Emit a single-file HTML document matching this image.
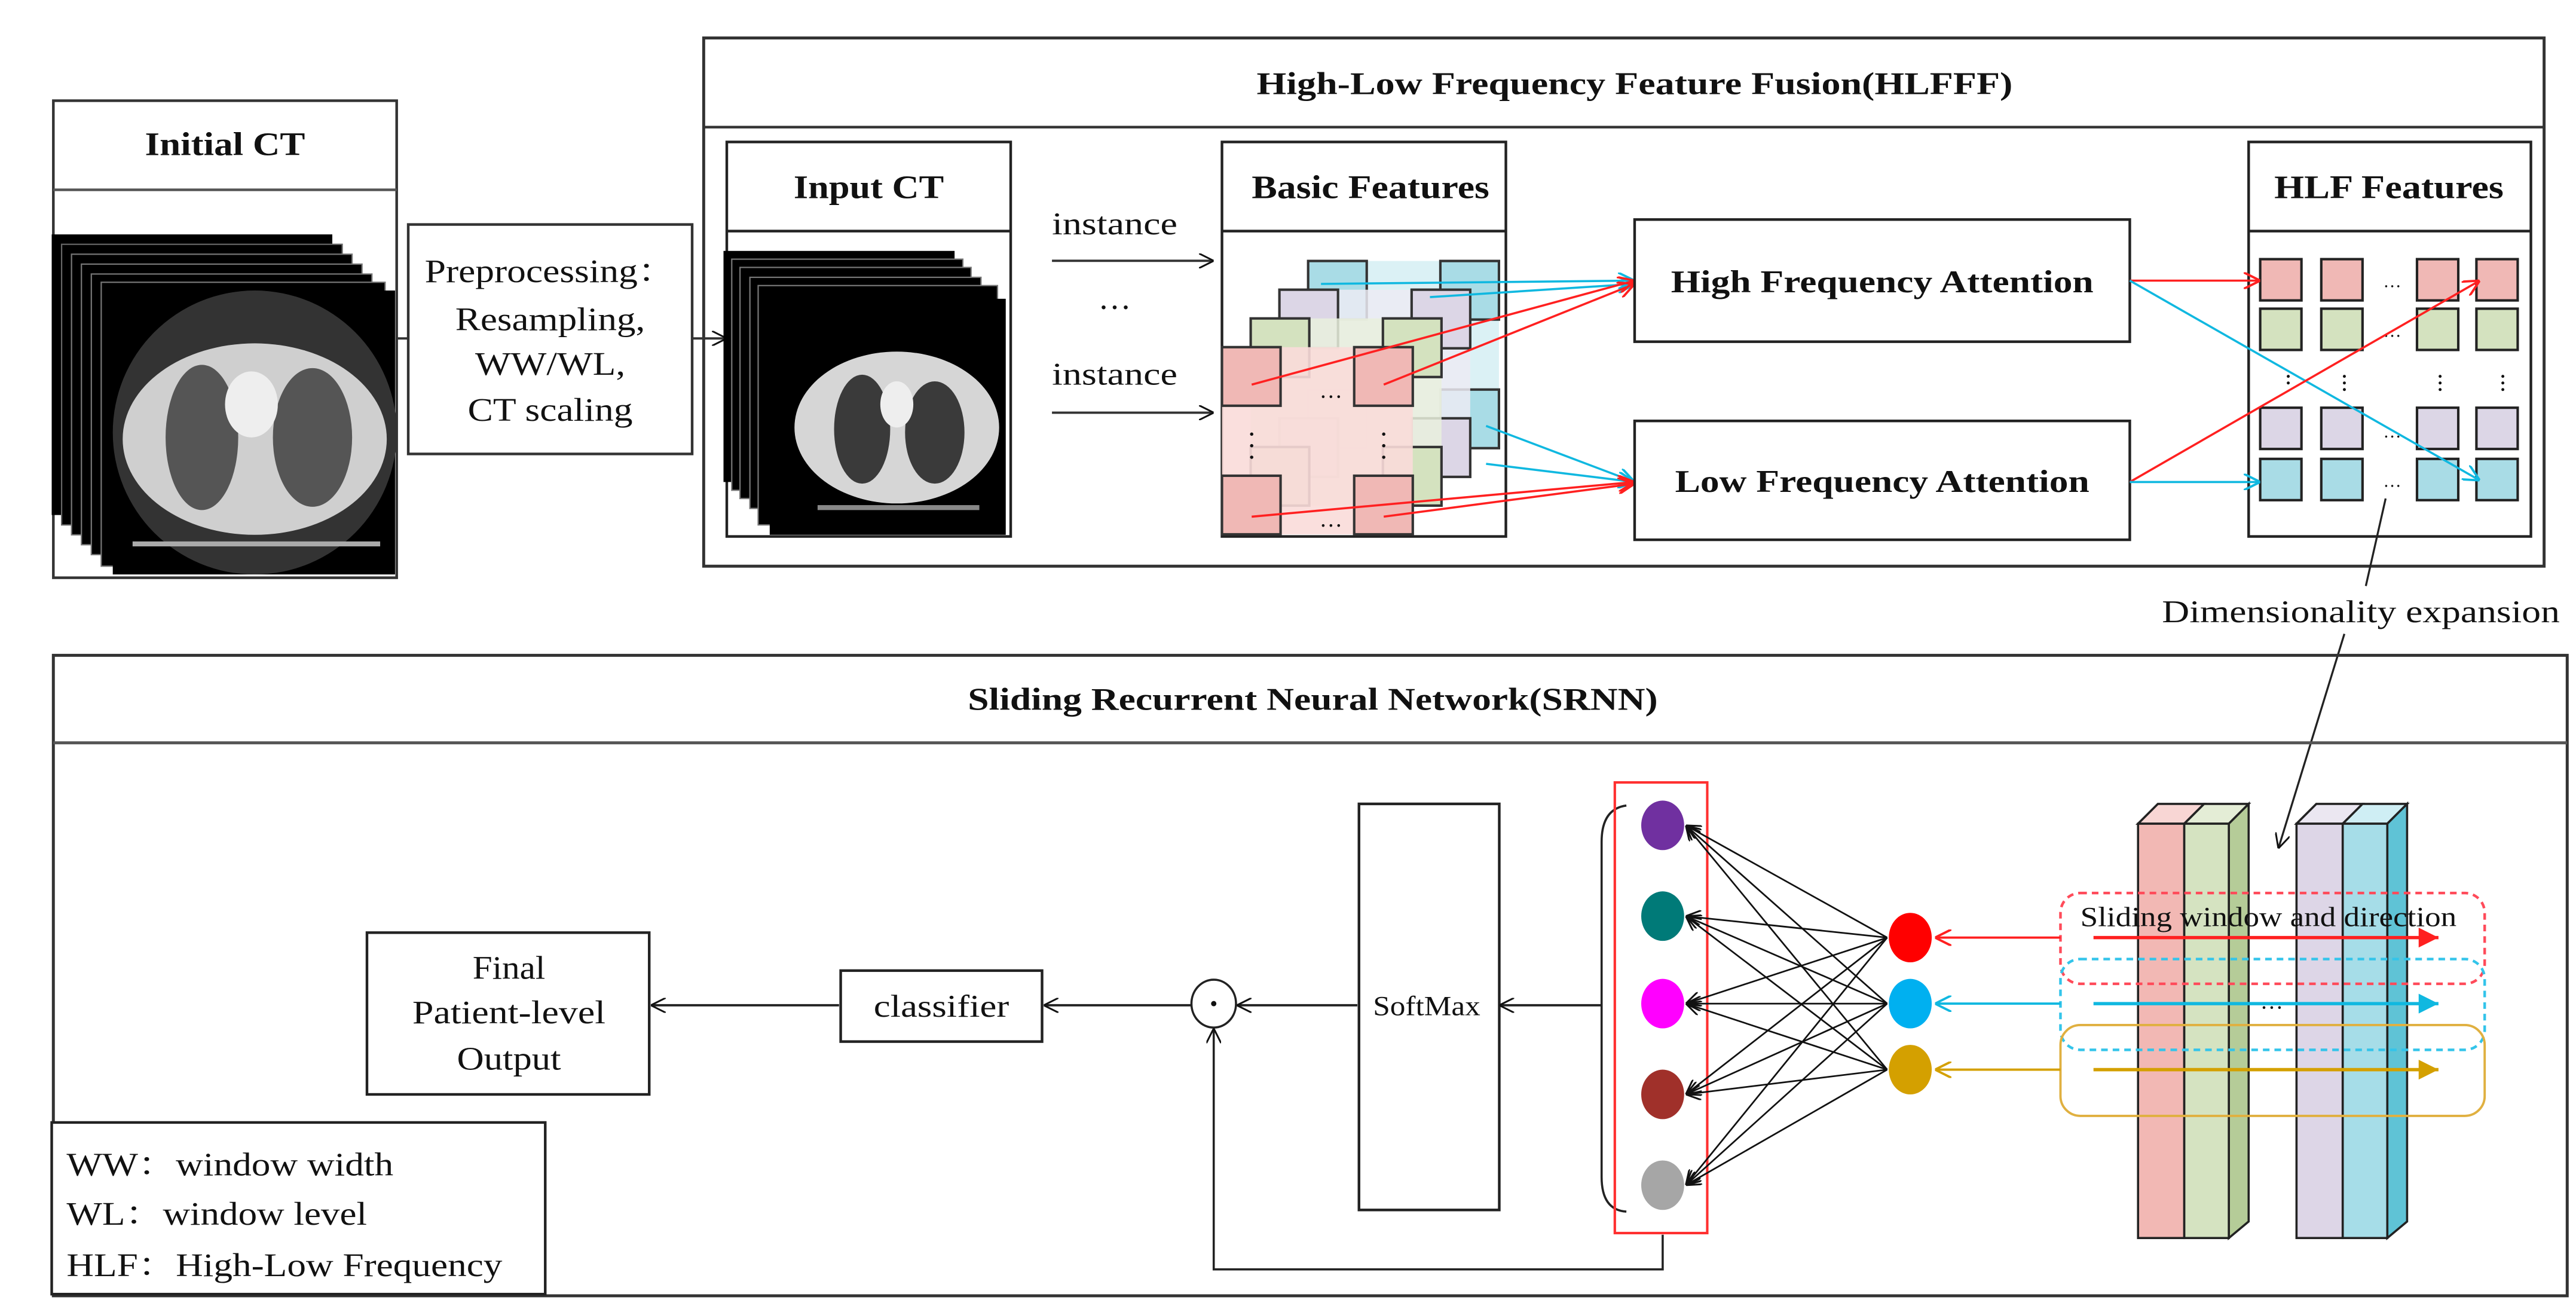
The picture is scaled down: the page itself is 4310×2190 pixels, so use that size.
<!DOCTYPE html>
<html><head><meta charset="utf-8"><style>
html,body{margin:0;padding:0;background:#fff;}
svg{display:block;}
text{font-family:"Liberation Serif","Noto Serif CJK SC","Noto Sans CJK SC",serif;fill:#111;}
.b{font-weight:bold;}
</style></head><body>
<svg width="4310" height="2190" viewBox="0 0 1560 793" xmlns="http://www.w3.org/2000/svg">
<defs>
<marker id="ak" viewBox="0 0 10 10" refX="10" refY="5" markerWidth="9" markerHeight="9" markerUnits="userSpaceOnUse" orient="auto"><path d="M0,0 L10,5 L0,10" fill="none" stroke="#111" stroke-width="1.2"/></marker>
<marker id="ar" viewBox="0 0 10 10" refX="10" refY="5" markerWidth="10" markerHeight="10" markerUnits="userSpaceOnUse" orient="auto"><path d="M0,0 L10,5 L0,10" fill="none" stroke="#ff2020" stroke-width="1.4"/></marker>
<marker id="ab" viewBox="0 0 10 10" refX="10" refY="5" markerWidth="10" markerHeight="10" markerUnits="userSpaceOnUse" orient="auto"><path d="M0,0 L10,5 L0,10" fill="none" stroke="#10b8e0" stroke-width="1.4"/></marker>
<marker id="ay" viewBox="0 0 10 10" refX="10" refY="5" markerWidth="10" markerHeight="10" markerUnits="userSpaceOnUse" orient="auto"><path d="M0,0 L10,5 L0,10" fill="none" stroke="#d4a000" stroke-width="1.4"/></marker>
<marker id="fr" viewBox="0 0 10 10" refX="10" refY="5" markerWidth="12" markerHeight="12" markerUnits="userSpaceOnUse" orient="auto"><path d="M0,0 L10,5 L0,10z" fill="#ff2020"/></marker>
<marker id="fb" viewBox="0 0 10 10" refX="10" refY="5" markerWidth="12" markerHeight="12" markerUnits="userSpaceOnUse" orient="auto"><path d="M0,0 L10,5 L0,10z" fill="#10b8e0"/></marker>
<marker id="fy" viewBox="0 0 10 10" refX="10" refY="5" markerWidth="12" markerHeight="12" markerUnits="userSpaceOnUse" orient="auto"><path d="M0,0 L10,5 L0,10z" fill="#d4a000"/></marker>
</defs>

<!-- Initial CT -->
<rect x="32" y="61" width="208" height="289" fill="#fff" stroke="#333" stroke-width="1.6"/>
<line x1="32" y1="115" x2="240" y2="115" stroke="#555" stroke-width="1.6"/>
<text x="136" y="94" class="b" font-size="20" text-anchor="middle" textLength="97" lengthAdjust="spacingAndGlyphs">Initial CT</text>
<g>
<rect x="31" y="142" width="170" height="170" fill="#000"/>
<rect x="37" y="148" width="170" height="170" fill="#000" stroke="#666" stroke-width="0.8"/>
<rect x="43" y="154" width="170" height="170" fill="#000" stroke="#777" stroke-width="0.8"/>
<rect x="49" y="160" width="170" height="170" fill="#000" stroke="#777" stroke-width="0.8"/>
<rect x="55" y="166" width="170" height="170" fill="#000" stroke="#777" stroke-width="0.8"/>
<rect x="61" y="171" width="172" height="172" fill="#000" stroke="#777" stroke-width="0.8"/>
<rect x="68" y="176" width="171" height="172" fill="#000"/>
<ellipse cx="154" cy="262" rx="86" ry="86" fill="#333"/>
<ellipse cx="154" cy="266" rx="80" ry="58" fill="#cfcfcf"/>
<ellipse cx="122" cy="265" rx="22" ry="44" fill="#555"/>
<ellipse cx="189" cy="265" rx="24" ry="42" fill="#555"/>
<ellipse cx="152" cy="245" rx="16" ry="20" fill="#eee"/>
<rect x="80" y="328" width="150" height="3" fill="#aaa"/>
</g>
<!-- Preprocessing -->
<line x1="240" y1="205" x2="247" y2="205" stroke="#333" stroke-width="1.4"/>
<rect x="247" y="136" width="172" height="139" fill="#fff" stroke="#333" stroke-width="1.6"/>
<text x="333" y="171" font-size="20" text-anchor="middle" textLength="152" lengthAdjust="spacingAndGlyphs">Preprocessing：</text>
<text x="333" y="200" font-size="20" text-anchor="middle" textLength="115" lengthAdjust="spacingAndGlyphs">Resampling,</text>
<text x="333" y="227" font-size="20" text-anchor="middle" textLength="91" lengthAdjust="spacingAndGlyphs">WW/WL,</text>
<text x="333" y="255" font-size="20" text-anchor="middle" textLength="100" lengthAdjust="spacingAndGlyphs">CT scaling</text>
<line x1="419" y1="205" x2="440" y2="205" stroke="#333" stroke-width="1.4" marker-end="url(#ak)"/>

<!-- HLFFF -->
<rect x="426" y="23" width="1115" height="320" fill="none" stroke="#333" stroke-width="1.8"/>
<line x1="426" y1="77" x2="1541" y2="77" stroke="#333" stroke-width="1.6"/>
<text x="990" y="57" class="b" font-size="19" text-anchor="middle" textLength="458" lengthAdjust="spacingAndGlyphs">High-Low Frequency Feature Fusion(HLFFF)</text>

<!-- Input CT -->
<rect x="440" y="86" width="172" height="239" fill="#fff" stroke="#222" stroke-width="1.6"/>
<line x1="440" y1="140" x2="612" y2="140" stroke="#222" stroke-width="1.6"/>
<text x="526" y="120" class="b" font-size="20" text-anchor="middle" textLength="91" lengthAdjust="spacingAndGlyphs">Input CT</text>
<g>
<rect x="438" y="152" width="140" height="140" fill="#000"/>
<rect x="443" y="157" width="140" height="140" fill="#000" stroke="#777" stroke-width="0.8"/>
<rect x="448" y="162" width="140" height="140" fill="#000" stroke="#777" stroke-width="0.8"/>
<rect x="454" y="168" width="140" height="140" fill="#000" stroke="#777" stroke-width="0.8"/>
<rect x="459" y="173" width="145" height="145" fill="#000" stroke="#777" stroke-width="0.8"/>
<rect x="466" y="181" width="143" height="143" fill="#000"/>
<ellipse cx="543" cy="259" rx="62" ry="46" fill="#d6d6d6"/>
<ellipse cx="522" cy="260" rx="17" ry="33" fill="#3a3a3a"/>
<ellipse cx="566" cy="262" rx="18" ry="31" fill="#3a3a3a"/>
<ellipse cx="543" cy="245" rx="10" ry="14" fill="#eee"/>
<rect x="495" y="306" width="98" height="3" fill="#888"/>
</g>

<!-- instance arrows -->
<text x="675" y="142" font-size="19" text-anchor="middle" textLength="76" lengthAdjust="spacingAndGlyphs">instance</text>
<line x1="637" y1="158" x2="735" y2="158" stroke="#333" stroke-width="1.4" marker-end="url(#ak)"/>
<text x="675" y="187" font-size="20" text-anchor="middle">…</text>
<text x="675" y="233" font-size="19" text-anchor="middle" textLength="76" lengthAdjust="spacingAndGlyphs">instance</text>
<line x1="637" y1="250" x2="735" y2="250" stroke="#333" stroke-width="1.4" marker-end="url(#ak)"/>

<!-- Basic Features -->
<rect x="740" y="86" width="172" height="239" fill="#fff" stroke="#222" stroke-width="1.6"/>
<line x1="740" y1="140" x2="912" y2="140" stroke="#222" stroke-width="1.6"/>
<text x="830" y="120" class="b" font-size="20" text-anchor="middle" textLength="144" lengthAdjust="spacingAndGlyphs">Basic Features</text>
<!-- layers: blue, lavender, green, pink -->
<g stroke="#333" stroke-width="1.5">
<g transform="translate(792.2,158.1)">
<rect width="115.6" height="113.4" fill="#d5eef3" stroke="none" opacity="0.85"/>
<rect x="0" y="0" width="35.5" height="35.5" fill="#a9dce6"/><rect x="80.1" y="0" width="35.5" height="35.5" fill="#a9dce6"/>
<rect x="0" y="77.9" width="35.5" height="35.5" fill="#a9dce6"/><rect x="80.1" y="77.9" width="35.5" height="35.5" fill="#a9dce6"/>
</g>
<g transform="translate(774.8,175.5)">
<rect width="115.6" height="113.4" fill="#ecebf3" stroke="none" opacity="0.85"/>
<rect x="0" y="0" width="35.5" height="35.5" fill="#dcd6e6"/><rect x="80.1" y="0" width="35.5" height="35.5" fill="#dcd6e6"/>
<rect x="0" y="77.9" width="35.5" height="35.5" fill="#dcd6e6"/><rect x="80.1" y="77.9" width="35.5" height="35.5" fill="#dcd6e6"/>
</g>
<g transform="translate(757.4,192.9)">
<rect width="115.6" height="113.4" fill="#e9f0dd" stroke="none" opacity="0.85"/>
<rect x="0" y="0" width="35.5" height="35.5" fill="#d4e2bf"/><rect x="80.1" y="0" width="35.5" height="35.5" fill="#d4e2bf"/>
<rect x="0" y="77.9" width="35.5" height="35.5" fill="#d4e2bf"/><rect x="80.1" y="77.9" width="35.5" height="35.5" fill="#d4e2bf"/>
</g>
<g transform="translate(740,210.3)">
<rect width="115.6" height="113.4" fill="#f9dcd9" stroke="none" opacity="0.9"/>
<rect x="0" y="0" width="35.5" height="35.5" fill="#f0b8b5"/><rect x="80.1" y="0" width="35.5" height="35.5" fill="#f0b8b5"/>
<rect x="0" y="77.9" width="35.5" height="35.5" fill="#f0b8b5"/><rect x="80.1" y="77.9" width="35.5" height="35.5" fill="#f0b8b5"/>
</g>
</g>
<text x="806" y="241" font-size="14" text-anchor="middle">…</text>
<text x="806" y="319" font-size="14" text-anchor="middle">…</text>
<g fill="#111"><circle cx="758" cy="263" r="1"/><circle cx="758" cy="270" r="1"/><circle cx="758" cy="277" r="1"/>
<circle cx="838" cy="263" r="1"/><circle cx="838" cy="270" r="1"/><circle cx="838" cy="277" r="1"/></g>
<!-- arrows to attention -->
<g stroke-width="1.3" fill="none">
<line x1="800" y1="172" x2="990" y2="170" stroke="#10b8e0" marker-end="url(#ab)"/>
<line x1="866" y1="180" x2="990" y2="172" stroke="#10b8e0" marker-end="url(#ab)"/>
<line x1="758" y1="233" x2="990" y2="170" stroke="#ff2020" marker-end="url(#ar)"/>
<line x1="838" y1="233" x2="990" y2="172" stroke="#ff2020" marker-end="url(#ar)"/>
<line x1="900" y1="258" x2="990" y2="292" stroke="#10b8e0" marker-end="url(#ab)"/>
<line x1="900" y1="281" x2="990" y2="292" stroke="#10b8e0" marker-end="url(#ab)"/>
<line x1="758" y1="313" x2="990" y2="292" stroke="#ff2020" marker-end="url(#ar)"/>
<line x1="838" y1="313" x2="990" y2="293" stroke="#ff2020" marker-end="url(#ar)"/>
</g>

<!-- Attention boxes -->
<rect x="990" y="133" width="300" height="74" fill="#fff" stroke="#222" stroke-width="1.6"/>
<text x="1140" y="177" class="b" font-size="19" text-anchor="middle" textLength="256" lengthAdjust="spacingAndGlyphs">High Frequency Attention</text>
<rect x="990" y="255" width="300" height="72" fill="#fff" stroke="#222" stroke-width="1.6"/>
<text x="1140" y="298" class="b" font-size="19" text-anchor="middle" textLength="251" lengthAdjust="spacingAndGlyphs">Low Frequency Attention</text>

<!-- HLF Features -->
<rect x="1362" y="86" width="171" height="239" fill="#fff" stroke="#222" stroke-width="1.6"/>
<line x1="1362" y1="140" x2="1533" y2="140" stroke="#222" stroke-width="1.6"/>
<text x="1447" y="120" class="b" font-size="20" text-anchor="middle" textLength="139" lengthAdjust="spacingAndGlyphs">HLF Features</text>
<g stroke="#222" stroke-width="1.5">
<rect x="1369" y="157" width="25" height="25" fill="#f0b8b5"/><rect x="1406" y="157" width="25" height="25" fill="#f0b8b5"/><rect x="1464" y="157" width="25" height="25" fill="#f0b8b5"/><rect x="1500" y="157" width="25" height="25" fill="#f0b8b5"/>
<rect x="1369" y="187" width="25" height="25" fill="#d4e2bf"/><rect x="1406" y="187" width="25" height="25" fill="#d4e2bf"/><rect x="1464" y="187" width="25" height="25" fill="#d4e2bf"/><rect x="1500" y="187" width="25" height="25" fill="#d4e2bf"/>
<rect x="1369" y="247" width="25" height="25" fill="#dcd6e6"/><rect x="1406" y="247" width="25" height="25" fill="#dcd6e6"/><rect x="1464" y="247" width="25" height="25" fill="#dcd6e6"/><rect x="1500" y="247" width="25" height="25" fill="#dcd6e6"/>
<rect x="1369" y="278" width="25" height="25" fill="#a9dce6"/><rect x="1406" y="278" width="25" height="25" fill="#a9dce6"/><rect x="1464" y="278" width="25" height="25" fill="#a9dce6"/><rect x="1500" y="278" width="25" height="25" fill="#a9dce6"/>
</g>
<g fill="#111">
<text x="1449" y="174" font-size="11" text-anchor="middle">…</text>
<text x="1449" y="204" font-size="11" text-anchor="middle">…</text>
<text x="1449" y="265" font-size="11" text-anchor="middle">…</text>
<text x="1449" y="295" font-size="11" text-anchor="middle">…</text>
<circle cx="1386" cy="228" r="0.9"/><circle cx="1386" cy="232" r="0.9"/>
<circle cx="1420" cy="228" r="0.9"/><circle cx="1420" cy="232" r="0.9"/><circle cx="1420" cy="236" r="0.9"/>
<circle cx="1478" cy="228" r="0.9"/><circle cx="1478" cy="232" r="0.9"/><circle cx="1478" cy="236" r="0.9"/>
<circle cx="1516" cy="228" r="0.9"/><circle cx="1516" cy="232" r="0.9"/><circle cx="1516" cy="236" r="0.9"/>
</g>
<g stroke-width="1.3">
<line x1="1290" y1="170" x2="1369" y2="170" stroke="#ff2020" marker-end="url(#ar)"/>
<line x1="1290" y1="170" x2="1502" y2="291" stroke="#10b8e0" marker-end="url(#ab)"/>
<line x1="1290" y1="292" x2="1502" y2="170" stroke="#ff2020" marker-end="url(#ar)"/>
<line x1="1290" y1="292" x2="1369" y2="292" stroke="#10b8e0" marker-end="url(#ab)"/>
</g>
<!-- Dimensionality expansion -->
<line x1="1445" y1="302" x2="1433" y2="355" stroke="#222" stroke-width="1.2"/>
<text x="1430" y="377" font-size="19" text-anchor="middle" textLength="241" lengthAdjust="spacingAndGlyphs">Dimensionality expansion</text>
<line x1="1420" y1="384" x2="1380" y2="514" stroke="#222" stroke-width="1.2" marker-end="url(#ak)"/>

<!-- SRNN -->
<rect x="32" y="397" width="1523" height="388" fill="none" stroke="#333" stroke-width="1.8"/>
<line x1="32" y1="450" x2="1555" y2="450" stroke="#555" stroke-width="1.8"/>
<text x="795" y="430" class="b" font-size="19" text-anchor="middle" textLength="418" lengthAdjust="spacingAndGlyphs">Sliding Recurrent Neural Network(SRNN)</text>

<!-- Legend -->
<rect x="31" y="680" width="299" height="104" fill="#fff" stroke="#222" stroke-width="1.6"/>
<text x="40" y="712" font-size="20" textLength="198" lengthAdjust="spacingAndGlyphs">WW：window width</text>
<text x="40" y="742" font-size="20" textLength="182" lengthAdjust="spacingAndGlyphs">WL：window level</text>
<text x="40" y="773" font-size="20" textLength="264" lengthAdjust="spacingAndGlyphs">HLF：High-Low Frequency</text>

<!-- Final output -->
<rect x="222" y="565" width="171" height="98" fill="#fff" stroke="#222" stroke-width="1.6"/>
<text x="308" y="593" font-size="20" text-anchor="middle" textLength="44" lengthAdjust="spacingAndGlyphs">Final</text>
<text x="308" y="620" font-size="20" text-anchor="middle" textLength="117" lengthAdjust="spacingAndGlyphs">Patient-level</text>
<text x="308" y="648" font-size="20" text-anchor="middle" textLength="63" lengthAdjust="spacingAndGlyphs">Output</text>
<line x1="508" y1="609" x2="394" y2="609" stroke="#222" stroke-width="1.4" marker-end="url(#ak)"/>
<rect x="509" y="588" width="122" height="43" fill="#fff" stroke="#222" stroke-width="1.6"/>
<text x="570" y="616" font-size="19" text-anchor="middle" textLength="82" lengthAdjust="spacingAndGlyphs">classifier</text>
<line x1="721" y1="609" x2="632" y2="609" stroke="#222" stroke-width="1.4" marker-end="url(#ak)"/>
<ellipse cx="735" cy="608" rx="13.5" ry="14.5" fill="#fff" stroke="#222" stroke-width="1.3"/>
<circle cx="735" cy="608" r="1.6" fill="#111"/>
<line x1="822" y1="609" x2="749" y2="609" stroke="#222" stroke-width="1.4" marker-end="url(#ak)"/>
<polyline points="1007,748 1007,769 735,769 735,623" fill="none" stroke="#222" stroke-width="1.3" marker-end="url(#ak)"/>
<rect x="823" y="487" width="85" height="246" fill="#fff" stroke="#222" stroke-width="1.6"/>
<text x="864" y="615" font-size="17" text-anchor="middle" textLength="65" lengthAdjust="spacingAndGlyphs">SoftMax</text>
<line x1="970" y1="609" x2="908" y2="609" stroke="#222" stroke-width="1.4" marker-end="url(#ak)"/>
<path d="M985,488 Q970,490 970,510 L970,713 Q970,733 985,734" fill="none" stroke="#222" stroke-width="1.3"/>
<rect x="978" y="474" width="56" height="273" fill="none" stroke="#ff3030" stroke-width="1.5"/>

<!-- network connections -->
<g stroke="#111" stroke-width="1">
<line x1="1143" y1="568" x2="1021" y2="500" marker-end="url(#ak)"/><line x1="1143" y1="608" x2="1021" y2="500" marker-end="url(#ak)"/><line x1="1143" y1="648" x2="1021" y2="500" marker-end="url(#ak)"/>
<line x1="1143" y1="568" x2="1021" y2="555" marker-end="url(#ak)"/><line x1="1143" y1="608" x2="1021" y2="555" marker-end="url(#ak)"/><line x1="1143" y1="648" x2="1021" y2="555" marker-end="url(#ak)"/>
<line x1="1143" y1="568" x2="1021" y2="608" marker-end="url(#ak)"/><line x1="1143" y1="608" x2="1021" y2="608" marker-end="url(#ak)"/><line x1="1143" y1="648" x2="1021" y2="608" marker-end="url(#ak)"/>
<line x1="1143" y1="568" x2="1021" y2="663" marker-end="url(#ak)"/><line x1="1143" y1="608" x2="1021" y2="663" marker-end="url(#ak)"/><line x1="1143" y1="648" x2="1021" y2="663" marker-end="url(#ak)"/>
<line x1="1143" y1="568" x2="1021" y2="718" marker-end="url(#ak)"/><line x1="1143" y1="608" x2="1021" y2="718" marker-end="url(#ak)"/><line x1="1143" y1="648" x2="1021" y2="718" marker-end="url(#ak)"/>
</g>
<ellipse cx="1007" cy="500" rx="13" ry="15" fill="#7030a0"/>
<ellipse cx="1007" cy="555" rx="13" ry="15" fill="#007a78"/>
<ellipse cx="1007" cy="608" rx="13" ry="15" fill="#ff00ff"/>
<ellipse cx="1007" cy="663" rx="13" ry="15" fill="#a0302a"/>
<ellipse cx="1007" cy="718" rx="13" ry="15" fill="#a6a6a6"/>
<ellipse cx="1157" cy="568" rx="13" ry="15" fill="#ff0000"/>
<ellipse cx="1157" cy="608" rx="13" ry="15" fill="#00b0f0"/>
<ellipse cx="1157" cy="648" rx="13" ry="15" fill="#d4a000"/>

<!-- columns -->
<g stroke="#222" stroke-width="1.3">
<polygon points="1295,499 1307,487 1335,487 1323,499" fill="#f8d6d4"/>
<polygon points="1323,499 1335,487 1362,487 1350,499" fill="#e4edd6"/>
<polygon points="1350,499 1362,487 1362,740 1350,750" fill="#b5cc98"/>
<rect x="1295" y="499" width="28" height="251" fill="#f2b8b4"/>
<rect x="1323" y="499" width="27" height="251" fill="#d5e3c1"/>
<polygon points="1391,499 1403,487 1431,487 1419,499" fill="#ebe7f1"/>
<polygon points="1419,499 1431,487 1458,487 1446,499" fill="#cfeef4"/>
<polygon points="1446,499 1458,487 1458,740 1446,750" fill="#5fc3d6"/>
<rect x="1391" y="499" width="28" height="251" fill="#ddd6e7"/>
<rect x="1419" y="499" width="27" height="251" fill="#a6dde8"/>
</g>

<!-- sliding windows -->
<rect x="1248" y="541" width="257" height="55" rx="12" fill="none" stroke="#ff4b5a" stroke-width="1.6" stroke-dasharray="4,3"/>
<rect x="1248" y="581" width="257" height="55" rx="12" fill="none" stroke="#33c4ea" stroke-width="1.6" stroke-dasharray="4,3"/>
<rect x="1248" y="621" width="257" height="55" rx="12" fill="none" stroke="#e0b040" stroke-width="1.4"/>
<text x="1374" y="561" font-size="17" text-anchor="middle" textLength="228" lengthAdjust="spacingAndGlyphs">Sliding window and direction</text>
<line x1="1268" y1="568" x2="1477" y2="568" stroke="#ff2020" stroke-width="2" marker-end="url(#fr)"/>
<line x1="1268" y1="608" x2="1477" y2="608" stroke="#10b8e0" stroke-width="2" marker-end="url(#fb)"/>
<line x1="1268" y1="648" x2="1477" y2="648" stroke="#d4a000" stroke-width="2" marker-end="url(#fy)"/>
<text x="1376" y="611" font-size="14" text-anchor="middle">…</text>
<line x1="1248" y1="568" x2="1172" y2="568" stroke="#ff2020" stroke-width="1.4" marker-end="url(#ar)"/>
<line x1="1248" y1="608" x2="1172" y2="608" stroke="#10b8e0" stroke-width="1.4" marker-end="url(#ab)"/>
<line x1="1248" y1="648" x2="1172" y2="648" stroke="#d4a000" stroke-width="1.4" marker-end="url(#ay)"/>
</svg>
</body></html>
